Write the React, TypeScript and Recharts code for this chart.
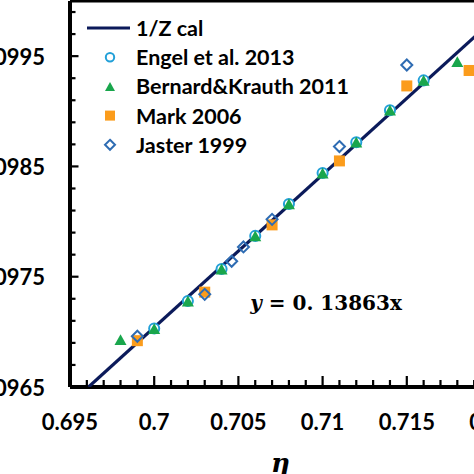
import { ScatterChart, Scatter, XAxis, YAxis, ReferenceLine, ReferenceDot, Legend } from 'recharts'

// fitted line 1/Z cal, y = 0.13863x (end points)
const fitX = [0.6961, 0.72]
const fitY = [0.0965, 0.09981]

const engelX = [0.7, 0.702, 0.704, 0.706, 0.708, 0.71, 0.712, 0.714, 0.716]
const engelY = [0.09703, 0.09728, 0.09757, 0.09787, 0.09816, 0.09844, 0.09872, 0.09901, 0.09928]

const bernardX = [0.698, 0.7, 0.702, 0.704, 0.706, 0.708, 0.71, 0.712, 0.714, 0.716, 0.718]
const bernardY = [0.09693, 0.09703, 0.09728, 0.09757, 0.09787, 0.09816, 0.09844, 0.09872, 0.09901, 0.09928, 0.09945]

const markX = [0.699, 0.703, 0.707, 0.711, 0.715, 0.7187]
const markY = [0.09692, 0.09736, 0.09797, 0.09855, 0.09923, 0.09937]

const jasterX = [0.699, 0.703, 0.7046, 0.7053, 0.707, 0.711, 0.715]
const jasterY = [0.09696, 0.09734, 0.09764, 0.09777, 0.09802, 0.09868, 0.09942]

const xTicks = [
  0.695, 0.696, 0.697, 0.698, 0.699, 0.7, 0.701, 0.702, 0.703, 0.704, 0.705, 0.706, 0.707,
  0.708, 0.709, 0.71, 0.711, 0.712, 0.713, 0.714, 0.715, 0.716, 0.717, 0.718, 0.719, 0.72,
]
const xTickLabels = ['0.695', '0.7', '0.705', '0.71', '0.715', '0.72']

const yTicks = [
  0.0965, 0.0967, 0.0969, 0.0971, 0.0973, 0.0975, 0.0977, 0.0979, 0.0981, 0.0983,
  0.0985, 0.0987, 0.0989, 0.0991, 0.0993, 0.0995, 0.0997, 0.0999,
]
const yTickLabels = ['0.0965', '0.0975', '0.0985', '0.0995']

const legendNames = ['1/Z cal', 'Engel et al. 2013', 'Bernard&Krauth 2011', 'Mark 2006', 'Jaster 1999']

const pts = (xs: number[], ys: number[]) => xs.map((x, i) => ({ x, y: ys[i] }))
const fitData = pts(fitX, fitY)
const engel = pts(engelX, engelY)
const bernard = pts(bernardX, bernardY)
const mark = pts(markX, markY)
const jaster = pts(jasterX, jasterY)

const LINE = '#0b1a5a'
const BLUE = '#22a0d8'
const GREEN = '#19a64c'
const ORANGE = '#fb9c1c'
const NAVY = '#2e6cb3'
const FONT = 'Lato, "Open Sans", sans-serif'

const findLabel = (labels: string[], v: number) => labels.find(l => Math.abs(Number(l) - v) < 1e-7)

// marker drawing shared by series and legend
function marker(kind: string, cx: number, cy: number, s: number) {
  if (kind === 'circle') return <circle cx={cx} cy={cy} r={s * 0.42} fill="#fff" stroke={BLUE} strokeWidth={2} />
  if (kind === 'triangle') {
    const h = s * 0.9
    return <polygon points={`${cx},${cy - h / 2} ${cx + s / 2},${cy + h / 2} ${cx - s / 2},${cy + h / 2}`} fill={GREEN} />
  }
  if (kind === 'square') return <rect x={cx - s / 2} y={cy - s / 2} width={s} height={s} fill={ORANGE} />
  if (kind === 'diamond') {
    const d = s / 2
    return (
      <polygon points={`${cx},${cy - d} ${cx + d},${cy} ${cx},${cy + d} ${cx - d},${cy}`} fill="none" stroke={NAVY} strokeWidth={2} />
    )
  }
  return <g />
}

const shapeOf = (kind: string, s: number) => (p: any) => marker(kind, p.cx, p.cy, s)

// ticks point into the plot; the labelled ones are longer
function XTick({ x, y, payload }: any) {
  const label = findLabel(xTickLabels, payload.value)
  const len = label ? 11 : 7
  return (
    <g>
      <rect x={x - 1.1} y={y - len} width={2.2} height={len} fill="#000" />
      {label && (
        <text x={x} y={y + 34} textAnchor="middle" dominantBaseline="central" fontFamily={FONT} fontWeight={700} fontSize={22} fill="#000">
          {label}
        </text>
      )}
    </g>
  )
}

function YTick({ x, y, payload }: any) {
  const label = findLabel(yTickLabels, payload.value)
  const len = label ? 8.5 : 5.5
  return (
    <g>
      <rect x={x} y={y - 1.1} width={len} height={2.2} fill="#000" />
      {label && (
        <text x={x - 25} y={y} textAnchor="end" dominantBaseline="central" fontFamily={FONT} fontWeight={700} fontSize={22} fill="#000">
          {label}
        </text>
      )}
    </g>
  )
}

function LegendBox() {
  const kinds = ['line', 'circle', 'triangle', 'square', 'diamond']
  return (
    <svg width={320} height={160}>
      {legendNames.map((name, i) => {
        const cy = 18 + i * 29.2
        return (
          <g key={name}>
            {kinds[i] === 'line'
              ? <line x1={7} x2={50} y1={cy} y2={cy} stroke={LINE} strokeWidth={3} />
              : marker(kinds[i], 30, cy, 10)}
            <text x={56} y={cy} dominantBaseline="central" fontFamily={FONT} fontWeight={700} fontSize={21.5} fill="#000">
              {name}
            </text>
          </g>
        )
      })}
    </svg>
  )
}

function Equation({ viewBox }: any) {
  return (
    <text x={viewBox.x} y={viewBox.y} dominantBaseline="central" fontFamily='"DejaVu Serif", serif' fontWeight={700} fontSize={20} fill="#000">
      <tspan fontStyle="italic">y</tspan>
      <tspan> = 0. 13863x</tspan>
    </text>
  )
}

function YTitle() {
  return (
    <text x={87} y={224} transform="rotate(-90 87 224)" textAnchor="middle" dominantBaseline="central" fontFamily={FONT} fontWeight={700} fontSize={24} fill="#000">
      1/Z
    </text>
  )
}

export default function App() {
  return (
    <div style={{ position: 'fixed', left: 0, top: 0, width: 474, height: 474, overflow: 'hidden', background: '#fff' }}>
      <div style={{ position: 'absolute', left: -100, top: -20 }}>
        <ScatterChart width={620} height={520} margin={{ top: 21, right: 29, bottom: 0, left: 0 }}>
          <XAxis
            type="number"
            dataKey="x"
            domain={[0.695, 0.72]}
            ticks={xTicks}
            interval={0}
            allowDataOverflow
            height={113}
            tickSize={0}
            tickMargin={0}
            tickLine={false}
            tick={<XTick />}
            axisLine={{ stroke: '#000', strokeWidth: 4 }}
            label={{ value: 'η', position: 'insideBottom', offset: 28, fontFamily: '"DejaVu Serif", serif', fontStyle: 'italic', fontWeight: 700, fontSize: 26, fill: '#000' }}
          />
          <YAxis
            type="number"
            dataKey="y"
            domain={[0.0965, 0.1]}
            ticks={yTicks}
            interval={0}
            allowDataOverflow
            width={170}
            tickSize={0}
            tickMargin={0}
            tickLine={false}
            tick={<YTick />}
            axisLine={{ stroke: '#000', strokeWidth: 4 }}
            label={<YTitle />}
          />
          <ReferenceLine y={0.1} stroke="#000" strokeWidth={3} ifOverflow="visible" />
          <Scatter name={legendNames[0]} data={fitData} line={{ stroke: LINE, strokeWidth: 3.2 }} shape={shapeOf('none', 0)} isAnimationActive={false} />
          <Scatter name={legendNames[1]} data={engel} shape={shapeOf('circle', 12)} isAnimationActive={false} />
          <Scatter name={legendNames[2]} data={bernard} shape={shapeOf('triangle', 12)} isAnimationActive={false} />
          <Scatter name={legendNames[3]} data={mark} shape={shapeOf('square', 11)} isAnimationActive={false} />
          <Scatter name={legendNames[4]} data={jaster} shape={shapeOf('diamond', 11)} isAnimationActive={false} />
          <ReferenceDot x={0.7057} y={0.09726} r={0} stroke="none" fill="none" label={<Equation />} />
          <Legend
            layout="vertical"
            align="center"
            verticalAlign="middle"
            wrapperStyle={{ left: 180, top: 30, width: 320, height: 160 }}
            content={() => <LegendBox />}
          />
        </ScatterChart>
      </div>
    </div>
  )
}
